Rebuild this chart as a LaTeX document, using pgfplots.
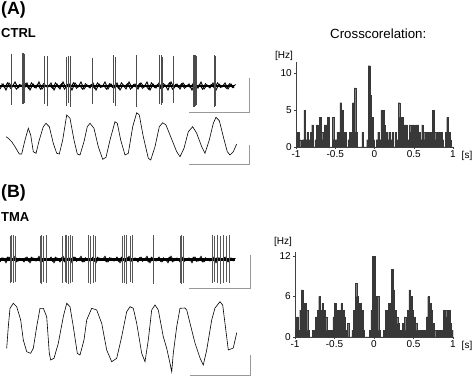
\documentclass[border=0pt]{standalone}
\usepackage{pgfplots}
\pgfplotsset{compat=1.18}
\usepackage{pgfplotstable}
\usepackage{fontspec}
\setmainfont{Liberation Sans}

\pgfplotstableread{
x d
0 3
3 -2
6 4
9 -3
12 1
15 -4
18 2
21 -1
24 3
27 -3
30 4
33 -2
36 2
39 -4
42 3
45 -1
48 1
51 -3
54 4
57 -2
60 3
63 -4
66 2
69 -2
72 4
75 -3
78 1
81 -4
84 3
87 -1
90 2
93 -3
96 4
99 -2
102 1
105 -4
108 3
111 -2
114 2
117 -3
120 4
123 -1
126 3
129 -4
132 2
135 -2
138 3
141 -3
144 1
147 -4
150 4
153 -2
156 2
159 -3
162 3
165 -1
168 4
171 -4
174 2
177 -2
180 3
183 -3
186 1
189 -2
192 4
195 -3
198 2
201 -4
204 3
207 -1
210 2
213 -3
216 4
219 -2
222 1
225 -3
228 3
231 -2
234 2
}\noisetab

\pgfplotstableread{
x y
-1.00 1
-0.98 2
-0.96 1
-0.94 0
-0.92 1
-0.90 5
-0.88 1
-0.86 2
-0.84 1
-0.82 2
-0.80 3
-0.78 0
-0.76 1
-0.74 3
-0.72 2
-0.70 4
-0.68 2
-0.66 1
-0.64 3
-0.62 3
-0.60 4
-0.58 0
-0.56 0
-0.54 4
-0.52 1
-0.50 1
-0.48 2
-0.46 2
-0.44 6
-0.42 5
-0.40 2
-0.38 2
-0.36 0
-0.34 1
-0.32 2
-0.30 1
-0.28 6
-0.26 8
-0.24 2
-0.22 0
-0.20 0
-0.18 0
-0.16 2
-0.14 0
-0.12 0
-0.10 1
-0.08 11
-0.06 7
-0.04 4
-0.02 1
0.00 0
0.02 1
0.04 2
0.06 1
0.08 5
0.10 5
0.12 3
0.14 2
0.16 1
0.18 2
0.20 1
0.22 2
0.24 0
0.26 2
0.28 1
0.30 6
0.32 4
0.34 4
0.36 1
0.38 3
0.40 3
0.42 1
0.44 3
0.46 2
0.48 3
0.50 1
0.52 3
0.54 3
0.56 2
0.58 1
0.60 3
0.62 2
0.64 1
0.66 2
0.68 1
0.70 2
0.72 1
0.74 5
0.76 2
0.78 1
0.80 2
0.82 1
0.84 2
0.86 1
0.88 0
0.90 2
0.92 4
0.94 2
0.96 1
0.98 0
1.00 0
}\tophist

\pgfplotstableread{
x y
-1.00 1
-0.98 3
-0.96 1
-0.94 4
-0.92 7
-0.90 4
-0.88 5
-0.86 4
-0.84 1
-0.82 0
-0.80 0
-0.78 1
-0.76 1
-0.74 3
-0.72 4
-0.70 6
-0.68 4
-0.66 5
-0.64 4
-0.62 3
-0.60 1
-0.58 1
-0.56 0
-0.54 1
-0.52 3
-0.50 5
-0.48 4
-0.46 4
-0.44 4
-0.42 5
-0.40 4
-0.38 3
-0.36 1
-0.34 2
-0.32 0
-0.30 0
-0.28 1
-0.26 4
-0.24 8
-0.22 6
-0.20 5
-0.18 5
-0.16 4
-0.14 1
-0.12 0
-0.10 0
-0.08 0
-0.06 1
-0.04 4
-0.02 12
0.00 12
0.02 6
0.04 6
0.06 1
0.08 0
0.10 0
0.12 1
0.14 4
0.16 4
0.18 5
0.20 4
0.22 10
0.24 7
0.26 4
0.28 3
0.30 2
0.32 1
0.34 1
0.36 2
0.38 3
0.40 1
0.42 4
0.44 7
0.46 6
0.48 4
0.50 3
0.52 2
0.54 1
0.56 1
0.58 1
0.60 1
0.62 1
0.64 1
0.66 3
0.68 6
0.70 5
0.72 4
0.74 2
0.76 1
0.78 0
0.80 1
0.82 0
0.84 1
0.86 1
0.88 4
0.90 4
0.92 3
0.94 4
0.96 2
0.98 1
1.00 0
}\bothist

\pgfplotsset{
  histstyle/.style={
    scale only axis, anchor=south west,
    xmin=-1, xmax=1, ymin=0,
    axis x line=bottom, axis y line=left,
    axis line style={-, black!75, line width=0.5pt},
    xtick={-1,-0.5,0,0.5,1}, xticklabels={-1,-0.5,0,0.5,1},
    tick align=outside, major tick length=2bp,
    tick style={black!75, line width=0.4pt},
    ticklabel style={font=\fontsize{10bp}{12bp}\selectfont},
    xticklabel style={inner sep=1.5bp},
    yticklabel style={inner sep=2bp},
  },
  barstyle/.style={ybar interval, fill=black!78, draw=black!78, line width=0.2pt},
}

\begin{document}
\begin{tikzpicture}
\path[use as bounding box] (0,0) rectangle (474bp,376bp);

\begin{axis}[at={(0,0)}, anchor=south west, scale only axis,
  width=474bp, height=376bp, xmin=0, xmax=474, ymin=0, ymax=376,
  y dir=reverse, hide axis, clip=false, unbounded coords=jump]

% noise baselines
\addplot[black, line width=2.6bp] coordinates {(0,86) (234,86)};
\addplot[black, line width=0.9bp] table[x=x, y expr=86+\thisrow{d}] {\noisetab};
\addplot[black, line width=0.8bp] table[x expr=\thisrow{x}+1.5, y expr=86-0.8*\thisrow{d}] {\noisetab};
\addplot[black, line width=2.2bp] coordinates {(0,259.5) (235,259.5)};
\addplot[black, line width=0.8bp] table[x=x, y expr=259.5+0.8*\thisrow{d}] {\noisetab};
\addplot[black, line width=0.7bp] table[x expr=\thisrow{x}+1.5, y expr=259.5-0.6*\thisrow{d}] {\noisetab};

% top spikes
\addplot[black!70, line width=0.9bp] coordinates {
(11.7,54) (11.7,105) (11.7,nan)
(22.3,53) (22.3,104) (22.3,nan)
(23.3,53) (23.3,104) (23.3,nan)
(24.3,54) (24.3,103) (24.3,nan)
(44,56) (44,104) (44,nan)
(47,56) (47,106) (47,nan)
(66,57) (66,106) (66,nan)
(68,56) (68,103) (68,nan)
(70,56) (70,107) (70,nan)
(92.7,58) (92.7,104) (92.7,nan)
(113.3,55) (113.3,103) (113.3,nan)
(115,57) (115,106) (115,nan)
(136.7,55) (136.7,107) (136.7,nan)
(159,55) (159,104) (159,nan)
(161.3,55) (161.3,105) (161.3,nan)
(162.7,57) (162.7,103) (162.7,nan)
(173.3,56) (173.3,103) (173.3,nan)
(193,55) (193,107) (193,nan)
(194.3,55) (194.3,107) (194.3,nan)
(195.5,55) (195.5,106) (195.5,nan)
(196.7,56) (196.7,105) (196.7,nan)
(214,55) (214,107) (214,nan)
(215,56) (215,106) (215,nan)
};

% bottom spikes
\addplot[black!66, line width=0.85bp] coordinates {
(10,236) (10,283) (10,nan)
(11.7,235) (11.7,282) (11.7,nan)
(13.3,235) (13.3,283) (13.3,nan)
(15,236) (15,282) (15,nan)
(40,236) (40,283) (40,nan)
(41.7,235) (41.7,284) (41.7,nan)
(43.3,236) (43.3,282) (43.3,nan)
(46.7,235) (46.7,283) (46.7,nan)
(62.7,236) (62.7,283) (62.7,nan)
(65,235) (65,282) (65,nan)
(66.7,235) (66.7,283) (66.7,nan)
(68.3,236) (68.3,284) (68.3,nan)
(70.7,235) (70.7,283) (70.7,nan)
(72.7,236) (72.7,282) (72.7,nan)
(88.3,235) (88.3,283) (88.3,nan)
(90,236) (90,284) (90,nan)
(93.3,235) (93.3,283) (93.3,nan)
(95,236) (95,282) (95,nan)
(122.7,236) (122.7,283) (122.7,nan)
(124,235) (124,283) (124,nan)
(126.7,235) (126.7,284) (126.7,nan)
(130,236) (130,282) (130,nan)
(132.7,235) (132.7,283) (132.7,nan)
(153.3,235) (153.3,284) (153.3,nan)
(180,236) (180,283) (180,nan)
(181.7,235) (181.7,284) (181.7,nan)
(183.3,236) (183.3,283) (183.3,nan)
(212.7,235) (212.7,283) (212.7,nan)
(214.7,236) (214.7,282) (214.7,nan)
(217.3,235) (217.3,283) (217.3,nan)
(220,236) (220,284) (220,nan)
(223.3,235) (223.3,283) (223.3,nan)
(226.7,236) (226.7,282) (226.7,nan)
(229.3,235) (229.3,283) (229.3,nan)
};

% top slow wave
\addplot[black, line width=0.6bp] coordinates {
(6,136.7) (8.3,138.3) (11.7,141.7) (15,146.7) (19.3,154) (21.7,154) (25,140)
(28.3,128.3) (30.7,135) (33.3,151.7) (36,153.3) (39.3,140) (43.3,126.7)
(46,123.3) (49.3,126.7) (53.3,143.3) (56.7,153.3) (59.3,154) (62.7,140)
(66.7,115) (70,118.3) (74,140) (77.3,154) (80,155) (84,141.7) (87.3,126.7)
(90,123.3) (94,128.3) (98.3,146.7) (102.7,159.3) (106,157.3) (110,140)
(115,121.7) (117.3,123.3) (120.7,140) (125,155) (128.3,153.3) (132.7,126.7)
(136.7,112.7) (139.3,115) (143.3,136.7) (148.3,158.3) (150.7,160) (155,146.7)
(159.3,126.7) (162.7,122.7) (166,125) (170.7,136.7) (176.7,151.7) (180,156.7)
(184,148.3) (188.3,131.7) (192.7,126.7) (196.7,133.3) (201.7,146.7) (205,153.3)
(209.3,140) (213.3,123.3) (216,117.3) (219.3,120.7) (223.3,136.7) (227.3,151.7)
(230,155) (233.3,151.7) (236.7,144)
};

% bottom slow wave
\addplot[black, line width=0.6bp] coordinates {
(6.7,348.3) (8.3,326.7) (10,308.3) (13.3,303.3) (16.7,306.7) (20.7,320)
(23.3,340) (26.7,351.7) (30.7,353.3) (33.3,348.3) (36.7,326.7) (40,308.3)
(43.3,308.3) (46.7,316.7) (49.3,353.3) (50.7,360) (54,358.3) (58.3,343.3)
(63.3,316.7) (66.7,303.3) (70,306.7) (73.3,326.7) (77.3,353.3) (80,355)
(84,340) (86.7,320) (91.7,308.3) (96.7,310) (101.7,323.3) (106.7,350)
(111.7,361.7) (116.7,358.3) (121.7,336.7) (126.7,311.7) (130,306.7)
(133.3,308.3) (136.7,323.3) (141.7,353.3) (145,361.7) (148.3,340)
(151.7,310) (155,305) (158.3,310) (163.3,336.7) (166.7,348.3) (170,363.3)
(171.7,371.7) (173.3,353.3) (176.7,326.7) (180,308.3) (185,308) (186.7,310)
(195,343) (200,358) (203.3,365) (206.7,350) (211.7,320) (215,308)
(220,301.7) (222.7,305) (228.3,350) (233.3,348) (236.7,332.7)
};

% scale bars
\addplot[black!40, line width=0.8bp] coordinates {(189,112) (249,112) (249,78)};
\addplot[black!40, line width=0.8bp] coordinates {(189,164) (249,164) (249,145)};
\addplot[black!40, line width=0.8bp] coordinates {(189,288) (250,288) (250,255)};
\addplot[black!40, line width=0.8bp] coordinates {(190,375) (250,375) (250,355)};

% texts
\node[anchor=west, inner sep=0] at (axis cs:1,10) {\fontsize{17.7bp}{20bp}\selectfont\bfseries (A)};
\node[anchor=west, inner sep=0] at (axis cs:1,33) {\fontsize{13bp}{15bp}\selectfont\bfseries CTRL};
\node[anchor=west, inner sep=0] at (axis cs:1,193) {\fontsize{17.7bp}{20bp}\selectfont\bfseries (B)};
\node[anchor=west, inner sep=0] at (axis cs:1,217) {\fontsize{13bp}{15bp}\selectfont\bfseries TMA};
\node[anchor=west, inner sep=0] at (axis cs:330,34) {\fontsize{13.3bp}{15bp}\selectfont Crosscorelation:};
\node[inner sep=0] at (axis cs:284,56) {\fontsize{10bp}{12bp}\selectfont [Hz]};
\node[inner sep=0] at (axis cs:283,242) {\fontsize{10bp}{12bp}\selectfont [Hz]};
\node[inner sep=0] at (axis cs:467,156) {\fontsize{10bp}{12bp}\selectfont [s]};
\node[inner sep=0] at (axis cs:467,346) {\fontsize{10bp}{12bp}\selectfont [s]};
\end{axis}

\begin{axis}[histstyle, at={(296bp,229bp)}, width=157bp, height=85bp,
  ymax=11.5, ytick={0,5,10}, yticklabels={0,5,10}]
\addplot[barstyle] table {\tophist};
\end{axis}

\begin{axis}[histstyle, at={(295bp,39bp)}, width=158bp, height=85bp,
  ymax=12.6, ytick={0,6,12}, yticklabels={0,6,12}]
\addplot[barstyle] table {\bothist};
\end{axis}
\end{tikzpicture}
\end{document}
